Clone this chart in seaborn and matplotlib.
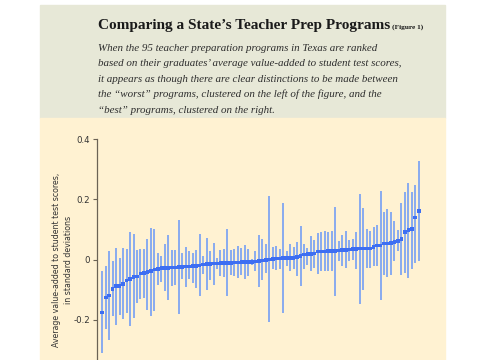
import matplotlib
matplotlib.use("Agg")
import matplotlib.pyplot as plt
import matplotlib.patches as mpatches
import numpy as np
import pandas as pd
import seaborn as sns


TITLE = "Comparing a State\u2019s Teacher Prep Programs"
TITLE_TAG = "(Figure 1)"
CAPTION = [
    "When the 95 teacher preparation programs in Texas are ranked",
    "based on their graduates\u2019 average value-added to student test scores,",
    "it appears as though there are clear distinctions to be made between",
    "the \u201cworst\u201d programs, clustered on the left of the figure, and the",
    "\u201cbest\u201d programs, clustered on the right.",
]
Y_LABEL = "Average value-added to student test scores,\nin standard deviations"
Y_TICKS = [-0.2, 0, 0.2, 0.4]
Y_TICK_LABELS = ["-0.2", "0", "0.2", "0.4"]

# ranked program estimates
estimate = [
    -0.176, -0.126, -0.120, -0.097, -0.089, -0.087, -0.081, -0.070, -0.064, -0.059,
    -0.056, -0.047, -0.044, -0.041, -0.039, -0.033, -0.031, -0.029, -0.029, -0.028,
    -0.027, -0.027, -0.026, -0.024, -0.023, -0.023, -0.022, -0.022, -0.020, -0.017,
    -0.014, -0.014, -0.013, -0.013, -0.012, -0.012, -0.011, -0.011, -0.010, -0.010,
    -0.009, -0.009, -0.008, -0.008, -0.007, -0.005, -0.003, -0.002, 0.000, 0.002,
    0.003, 0.003, 0.004, 0.004, 0.005, 0.006, 0.008, 0.011, 0.017, 0.018,
    0.019, 0.020, 0.027, 0.027, 0.027, 0.028, 0.028, 0.029, 0.030, 0.031,
    0.032, 0.033, 0.034, 0.035, 0.036, 0.036, 0.037, 0.037, 0.042, 0.047,
    0.047, 0.053, 0.053, 0.054, 0.058, 0.061, 0.069, 0.091, 0.098, 0.102,
    0.139, 0.161,
]
upper = [
    -0.039, -0.020, 0.028, -0.006, 0.038, 0.006, 0.037, 0.036, 0.092, 0.086,
    0.031, 0.036, 0.036, 0.067, 0.106, 0.102, 0.022, 0.013, 0.050, 0.080,
    0.031, 0.031, 0.130, 0.022, 0.041, 0.028, 0.022, 0.031, 0.083, 0.013,
    0.072, 0.028, 0.056, 0.006, 0.033, 0.036, 0.100, 0.033, 0.036, 0.044,
    0.038, 0.047, 0.036, 0.002, 0.028, 0.080, 0.067, 0.050, 0.211, 0.041,
    0.044, 0.036, 0.189, 0.028, 0.050, 0.041, 0.058, 0.111, 0.053, 0.039,
    0.078, 0.064, 0.087, 0.091, 0.093, 0.091, 0.093, 0.174, 0.061, 0.080,
    0.093, 0.065, 0.067, 0.091, 0.219, 0.172, 0.100, 0.094, 0.109, 0.113,
    0.227, 0.158, 0.167, 0.158, 0.128, 0.098, 0.189, 0.224, 0.253, 0.224,
    0.247, 0.328,
]
lower = [
    -0.311, -0.231, -0.267, -0.189, -0.217, -0.183, -0.198, -0.178, -0.222, -0.194,
    -0.144, -0.131, -0.128, -0.167, -0.189, -0.170, -0.083, -0.076, -0.106, -0.136,
    -0.087, -0.083, -0.180, -0.064, -0.091, -0.064, -0.078, -0.094, -0.120, -0.047,
    -0.100, -0.067, -0.083, -0.033, -0.056, -0.058, -0.122, -0.053, -0.056, -0.061,
    -0.050, -0.064, -0.056, -0.017, -0.039, -0.091, -0.067, -0.044, -0.206, -0.033,
    -0.036, -0.033, -0.178, -0.022, -0.039, -0.031, -0.056, -0.087, -0.033, -0.017,
    -0.039, -0.028, -0.047, -0.039, -0.039, -0.039, -0.039, -0.120, -0.006, -0.022,
    -0.028, -0.005, 0.000, -0.033, -0.147, -0.100, -0.028, -0.028, -0.022, -0.020,
    -0.133, -0.053, -0.058, -0.050, -0.006, 0.028, -0.050, -0.044, -0.061, -0.030,
    -0.010, -0.006,
]

HEADER_BG = "#e7e8d7"
PLOT_BG = "#fff2d2"
BAR_COLOR = "#7fa5f2"
DOT_COLOR = "#3d6ef2"


def main() -> None:
    sns.set_theme(style="white")
    plt.rcParams["font.family"] = ["DejaVu Sans"]

    df = pd.DataFrame({"estimate": estimate, "upper": upper, "lower": lower})
    df["rank"] = np.arange(len(df))

    fig = plt.figure(figsize=(4.85, 3.6), dpi=100)
    fig.patch.set_facecolor("white")

    # header and plot panels
    W, H = 485, 360
    fig.patches.append(mpatches.Rectangle((40 / W, 1 - 118 / H), 405 / W, 113 / H,
                                          transform=fig.transFigure, color=HEADER_BG, zorder=-5))
    fig.patches.append(mpatches.Rectangle((40 / W, 0), 405 / W, 1 - 118 / H,
                                          transform=fig.transFigure, color=PLOT_BG, zorder=-5))

    title = fig.text(98 / W, 1 - 29 / H, TITLE, family="Liberation Serif", weight="bold",
                     fontsize=11.0, color="#1a1a1a", va="baseline")
    fig.canvas.draw()
    bb = title.get_window_extent()
    fig.text(bb.x1 / W + 2 / W, 1 - 29 / H, TITLE_TAG, family="Liberation Serif",
             weight="bold", fontsize=5.3, color="#1a1a1a", va="baseline")
    for i, line in enumerate(CAPTION):
        fig.text(98 / W, 1 - (51 + 15.4 * i) / H, line, family="Liberation Serif",
                 style="italic", fontsize=7.95, color="#2e2e2e", va="baseline")

    # axes extend below the cropped bottom edge
    top_px, bottom_px = 139, 380
    ax = fig.add_axes([97 / W, 1 - bottom_px / H, 343 / W, (bottom_px - top_px) / H])
    ax.patch.set_visible(False)

    ax.vlines(df["rank"], df["lower"], df["upper"], color=BAR_COLOR, linewidth=1.3, zorder=2)
    sns.scatterplot(data=df, x="rank", y="estimate", ax=ax, color=DOT_COLOR, s=7,
                    marker="s", edgecolor="none", zorder=3, legend=False)

    ax.set_xlim(-1.5, len(df) - 1 + 6.1)
    ax.set_ylim(-0.4, 0.4)
    ax.set_yticks(Y_TICKS)
    ax.set_yticklabels(Y_TICK_LABELS)
    ax.set_xticks([])
    ax.set_xlabel("")
    ax.set_ylabel(Y_LABEL, fontsize=5.7, color="#333333", labelpad=0.5, linespacing=1.4)
    ax.tick_params(axis="y", which="both", left=True, length=3, width=0.8, color="#6b6355",
                   labelsize=6.2, labelcolor="#333333", pad=2)
    for side in ["top", "right", "bottom"]:
        ax.spines[side].set_visible(False)
    ax.spines["left"].set_color("#6b6355")
    ax.spines["left"].set_linewidth(0.9)

    fig.savefig("out.png", dpi=100, facecolor=fig.get_facecolor())
    plt.close(fig)


if __name__ == "__main__":
    main()
